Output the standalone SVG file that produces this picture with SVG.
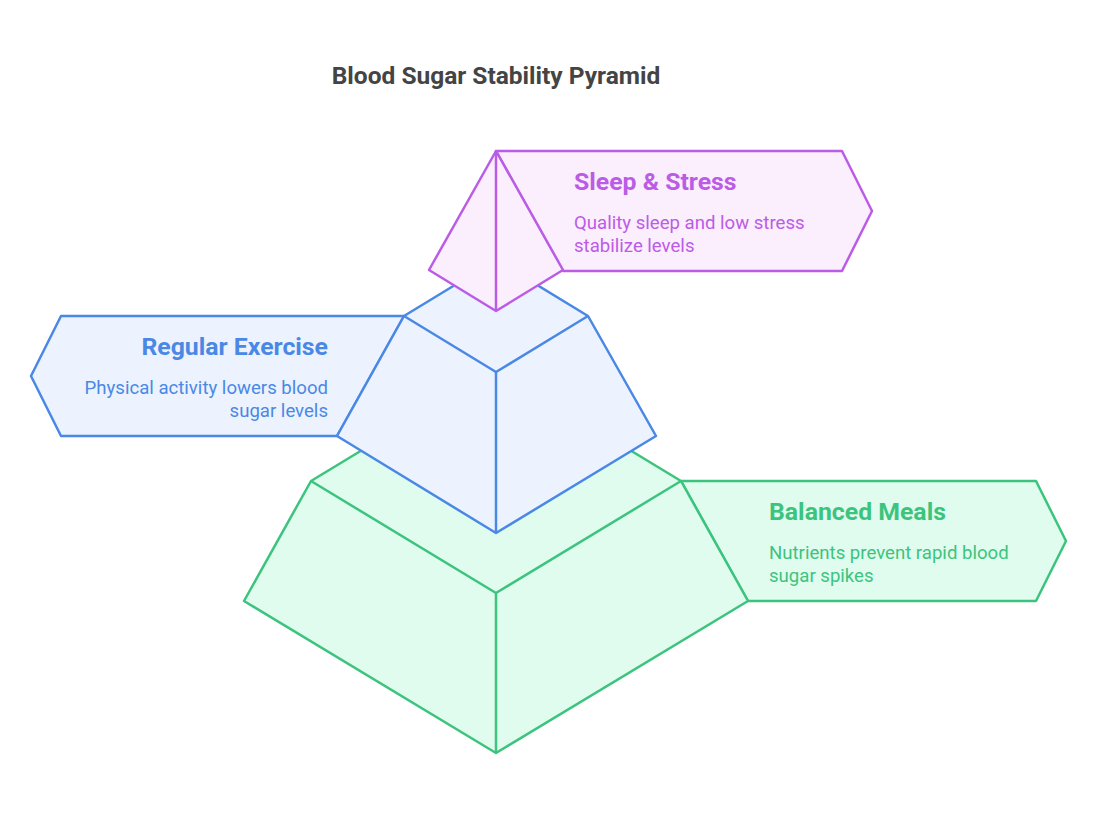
<svg xmlns="http://www.w3.org/2000/svg" width="1098" height="817" viewBox="0 0 1098 817">
<style>
.g{fill:#e0fcee;stroke:#3cc47e;stroke-width:2.5;stroke-linejoin:round}
.b{fill:#ecf3fe;stroke:#4a88e6;stroke-width:2.5;stroke-linejoin:round}
.p{fill:#fbeefd;stroke:#bb5ce6;stroke-width:2.5;stroke-linejoin:round}
text{font-family:Roboto,"Liberation Sans",sans-serif}
.h{font-size:24.8px;font-weight:bold}
.d{font-size:18.6px}
</style>
<rect width="1098" height="817" fill="#fff"/>
<text x="496" y="84" text-anchor="middle" font-size="24.5" font-weight="bold" fill="#444">Blood Sugar Stability Pyramid</text>
<g id="balanced-meals">
<polygon class="g" points="681,481 1036,481 1066,541 1036,601 748,601"/>
<polygon class="g" points="496,369 681,481 748,601 496,753 244,601 311,481"/>
<polyline class="g" fill="none" points="311,481 496,593 681,481"/>
<line class="g" x1="496" y1="593" x2="496" y2="753"/>
<text class="h" x="769" y="520" fill="#3cc47e">Balanced Meals</text>
<text class="d" fill="#3cc47e"><tspan x="769" y="559">Nutrients prevent rapid blood</tspan><tspan x="769" y="582">sugar spikes</tspan></text>
</g>
<g id="regular-exercise">
<polygon class="b" points="61,316 404,316 337,436 61,436 31,376"/>
<polygon class="b" points="496,260 588,316 656,436 496,533 337,436 404,316"/>
<polyline class="b" fill="none" points="404,316 496,372 588,316"/>
<line class="b" x1="496" y1="372" x2="496" y2="533"/>
<text class="h" x="328" y="355" text-anchor="end" fill="#4a88e6">Regular Exercise</text>
<text class="d" fill="#4a88e6" text-anchor="end"><tspan x="328" y="394">Physical activity lowers blood</tspan><tspan x="328" y="417">sugar levels</tspan></text>
</g>
<g id="sleep-stress">
<polygon class="p" points="496,151 842,151 872,211 842,271 563,271"/>
<polygon class="p" points="496,151 563,270 496,311 429,270"/>
<line class="p" x1="496" y1="151" x2="496" y2="311"/>
<text class="h" x="574" y="190" fill="#bb5ce6">Sleep &amp; Stress</text>
<text class="d" fill="#bb5ce6"><tspan x="574" y="229">Quality sleep and low stress</tspan><tspan x="574" y="252">stabilize levels</tspan></text>
</g>
<g id="connectors"></g>
</svg>
